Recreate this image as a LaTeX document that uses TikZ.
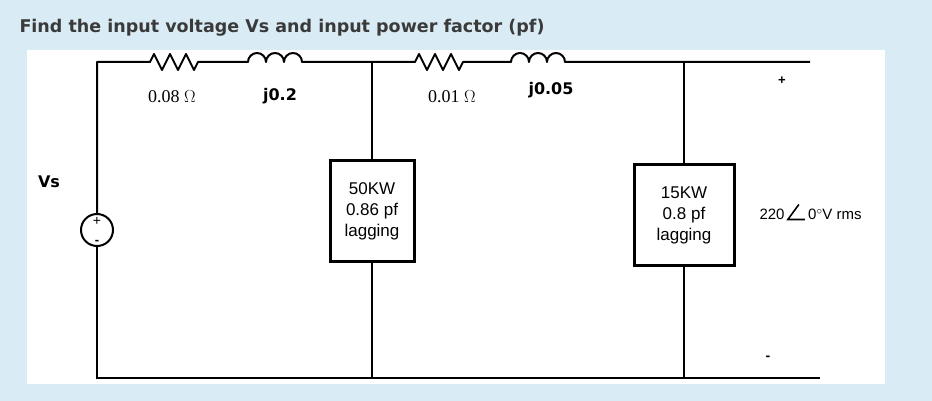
\documentclass[tikz,border=0pt]{standalone}
\usepackage{fontspec}
\setmainfont{Liberation Serif}
\newfontfamily\sans{Liberation Sans}
\newfontfamily\vsans{DejaVu Sans}
\usetikzlibrary{calc}
\definecolor{bgblue}{HTML}{D9EBF4}
\definecolor{titlegray}{HTML}{3A3A3A}
\tikzset{
  wire/.style={line width=2pt},
  load/.style={draw, line width=3pt, fill=white, minimum width=84pt, minimum height=100pt, align=center, font=\sans\fontsize{17}{21}\selectfont},
  val/.style={font=\fontsize{18}{20}\selectfont},
  jval/.style={font=\vsans\bfseries\fontsize{16}{19}\selectfont},
}
\begin{document}
\begin{tikzpicture}[x=1pt,y=-1pt]
  \fill[bgblue] (0,0) rectangle (932,401);
  \fill[white] (27,50) rectangle (885,384);
  \useasboundingbox (0,0) rectangle (932,401);
  \node[anchor=west, font=\vsans\bfseries\fontsize{17.5}{20}\selectfont, text=titlegray] (title) at (16,28) {Find the input voltage Vs and input power factor (pf)};

  % junctions
  \coordinate (tl) at (97,62);
  \coordinate (bl) at (97,378);
  \coordinate (j1) at (372,62);
  \coordinate (j2) at (684,62);
  \coordinate (tr) at (810,62);
  \coordinate (br) at (820,378);
  \coordinate (b1) at (372,378);
  \coordinate (b2) at (684,378);

  % source
  \node[draw, circle, line width=2pt, minimum size=32pt, inner sep=0pt] (src) at (97,230) {};
  \node[font=\sans\fontsize{14}{15}\selectfont] (sp) at (97,221) {+};
  \node[font=\sans\bfseries\fontsize{13}{14}\selectfont] (sm) at (97,242) {-};
  \node[font=\vsans\bfseries\fontsize{16}{19}\selectfont] (vs) at (49,182) {Vs};

  % loads
  \node[load] (l1) at (372,211) {50KW\\0.86 pf\\lagging};
  \node[load, minimum width=100pt] (l2) at (684,215) {15KW\\0.8 pf\\lagging};

  % top line with R and L
  \draw[wire, line join=round] (src.north) -- (tl) -- (150,62)
    -- (154,54) -- (162,70) -- (170,54) -- (178,70) -- (186,54) -- (194,70) -- (198,62)
    -- (245,62) -- (248,62)
    arc(180:360:9) arc(180:360:9) arc(180:360:9) -- (320,62) -- (j1) -- (415,62)
    -- (419,54) -- (427,70) -- (435,54) -- (443,70) -- (451,54) -- (459,70) -- (463,62)
    -- (508,62) -- (511,62)
    arc(180:360:9) arc(180:360:9) arc(180:360:9) -- (590,62) -- (j2) -- (tr);
  \draw[wire] (src.south) -- (bl) -- (br);
  \draw[wire] (j1) -- (l1.north);
  \draw[wire] (l1.south) -- (b1);
  \draw[wire] (j2) -- (l2.north);
  \draw[wire] (l2.south) -- (b2);

  % labels
  \node[val] (r1) at (172,97) {0.08 $\Omega$};
  \node[jval] (x1) at (280,96) {j0.2};
  \node[val] (r2) at (452,97) {0.01 $\Omega$};
  \node[jval] (x2) at (551,90) {j0.05};
  \node[font=\sans\bfseries\fontsize{13}{14}\selectfont] (vp) at (782,81) {+};
  \node[font=\sans\bfseries\fontsize{14}{14}\selectfont] (vm) at (768,358) {-};
  \node[font=\sans\fontsize{15}{17}\selectfont, anchor=west] (vr) at (756,212) {220\,\tikz[baseline=0pt,x=1pt,y=1pt]\draw[line width=1.6pt](11,15)--(0,0)--(17,0);\,0$^\circ$V rms};
\end{tikzpicture}
\end{document}
